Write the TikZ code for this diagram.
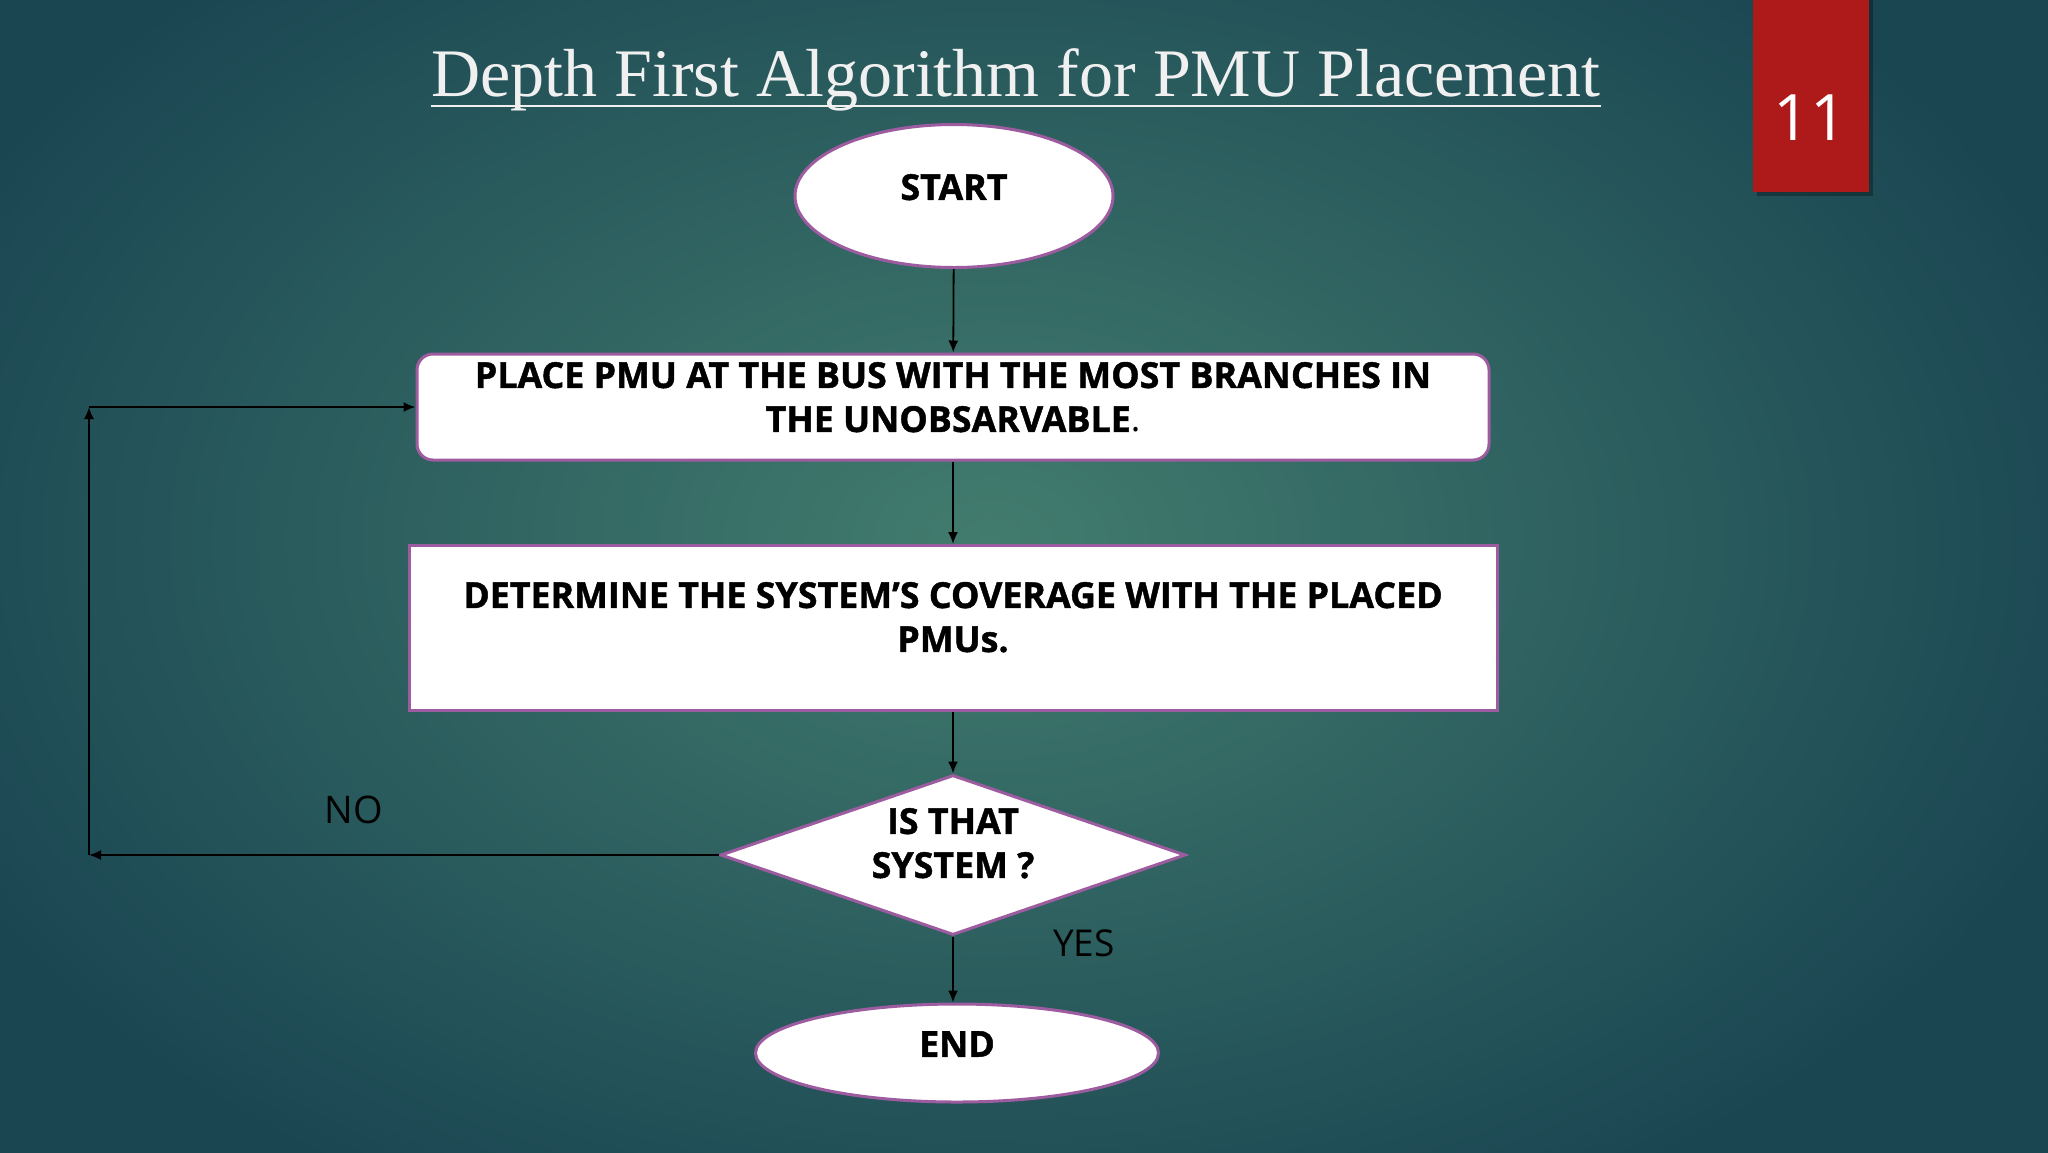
\documentclass[tikz,border=0pt]{standalone}
\usepackage{fontspec}
\setmainfont{Open Sans}
\newfontfamily\boxfont{Open Sans}[BoldFeatures={FakeBold=1.2}]
\newfontfamily\titlefont{Liberation Serif}
\usetikzlibrary{shapes.geometric,arrows.meta,calc}
\definecolor{bgdark}{RGB}{26,70,82}
\definecolor{bglight}{RGB}{66,124,110}
\definecolor{edgepurple}{RGB}{158,92,160}
\definecolor{slidered}{RGB}{174,26,26}
\definecolor{titlecol}{RGB}{240,240,240}
\begin{document}
\begin{tikzpicture}[x=0.5pt,y=-0.5pt,
  box/.style={draw=edgepurple, line width=1.5pt, fill=white, font=\boxfont\fontsize{17.9pt}{22pt}\selectfont\bfseries, text=black, inner sep=0pt, align=center},
  term/.style={box, ellipse},
  proc/.style={box, rectangle},
  rproc/.style={box, rectangle, rounded corners=8pt},
  decision/.style={box, diamond},
  conn/.style={-{Latex[length=6pt,width=5pt]}, line width=0.9pt, black},
  lbl/.style={font=\fontsize{19pt}{22pt}\selectfont, text=black, inner sep=0pt}]
\useasboundingbox (0,0) rectangle (2048,1152);
\fill[bgdark] (-4,-4) rectangle (2052,1156);
\begin{scope}
\clip (-4,-4) rectangle (2052,1156);
\shade[inner color=bglight, outer color=bgdark] (990,540) ellipse (575pt and 380pt);
\end{scope}
% slide number
\fill[black, opacity=0.3] (1757,-4) rectangle (1873,196);
\fill[slidered] (1753,-4) rectangle (1869,192);
\node[text=white, font=\fontsize{32pt}{34pt}\selectfont, inner sep=0pt] (num) at (1810,118) {11};
% title
\node[anchor=base, text=titlecol, font=\titlefont\fontsize{34pt}{38pt}\selectfont, inner sep=0pt] (title) at (1016,96) {Depth First Algorithm for PMU Placement};
\draw[titlecol, line width=1.2pt] ([yshift=-5pt]title.base west) -- ([yshift=-5pt]title.base east);
% nodes
\node[term, minimum width=159pt, minimum height=71.5pt, text depth=9pt] (start) at (954,196) {START};
\node[rproc, minimum width=536pt, minimum height=53pt, text depth=10pt] (place) at (953,407) {PLACE PMU AT THE BUS WITH THE MOST BRANCHES IN\\THE UNOBSARVABLE{\mdseries .}};
\node[proc, minimum width=544pt, minimum height=82.5pt, text depth=11pt] (cover) at (953,628) {DETERMINE THE SYSTEM’S COVERAGE WITH THE PLACED\\PMUs.};
\node[decision, minimum width=232.5pt, minimum height=80pt, text depth=12pt, aspect=2.9] (check) at (953,855) {IS THAT\\SYSTEM ?};
\node[term, minimum width=201.5pt, minimum height=49pt, text depth=9pt] (finish) at (957,1053) {END};
% connectors
\draw[conn] (start) -- (place);
\draw[conn] (place) -- (cover);
\draw[conn] (cover) -- (check);
\draw[conn] (check.south) -- (check.south |- finish.north);
\coordinate (lowcorner) at (89,855);
\coordinate (upcorner) at (89,407);
\draw[conn] (check.west) -- (lowcorner);
\draw[conn] (lowcorner) -- (upcorner);
\draw[conn] (upcorner) -- (place.west);
% labels
\node[lbl] (nolbl) at (354,810) {NO};
\node[lbl, font=\fontsize{18.5pt}{22pt}\selectfont] (yeslbl) at (1084,943) {YES};
\end{tikzpicture}
\end{document}
